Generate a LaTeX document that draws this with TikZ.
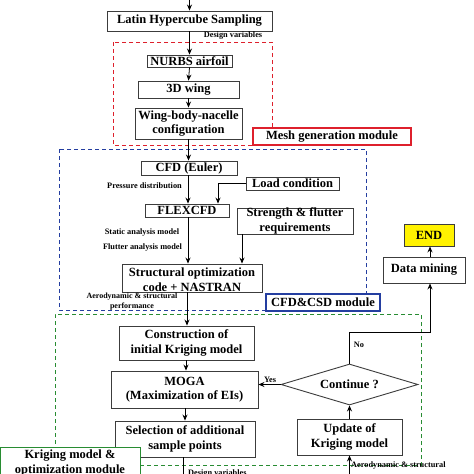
\documentclass[tikz,border=0pt]{standalone}
\usepackage{fontspec}
\setmainfont{Liberation Serif}
\usetikzlibrary{arrows.meta,shapes.geometric}
\definecolor{myred}{RGB}{222,32,44}
\definecolor{myblue}{RGB}{36,62,160}
\definecolor{mygreen}{RGB}{40,140,50}
\definecolor{boxgray}{RGB}{60,60,60}
\tikzset{
  box/.style={draw=boxgray,line width=0.9pt,fill=white,inner sep=0pt,align=center,
    font=\bfseries\fontsize{12.5}{14.5}\selectfont},
  lbl/.style={inner sep=0pt,font=\bfseries\fontsize{8.3}{10}\selectfont},
  arr/.style={line width=0.8pt,-{Stealth[length=6pt,width=5pt]}},
  ln/.style={line width=0.8pt},
  modframe/.style={line width=1pt,dash pattern=on 4pt off 3pt},
}
\begin{document}
\begin{tikzpicture}[x=1pt,y=-1pt]
\useasboundingbox (0,0) rectangle (474,474);
\clip (0,0) rectangle (474,474);
\fill[white] (0,0) rectangle (474,474);
% module frames
\draw[modframe,myred] (113,42) rectangle (272,145);
\draw[modframe,myblue] (59,149) rectangle (366,310);
\draw[modframe,mygreen] (140,465) -- (421,465) -- (421,314) -- (55,314) -- (55,447);
% nodes
\node[box,minimum width=165pt,minimum height=20pt] (lhs) at (189.5,21) {Latin Hypercube Sampling};
\node[box,minimum width=85pt,minimum height=12pt] (nurbs) at (189.5,61) {NURBS airfoil};
\node[box,minimum width=101pt,minimum height=17pt] (wing) at (188.5,89.5) {3D wing};
\node[box,minimum width=107pt,minimum height=31pt] (wbn) at (188.5,123.5) {Wing-body-nacelle\\configuration};
\node[box,draw=myred,line width=1.3pt,minimum width=158pt,minimum height=17pt] (mesh) at (332,136.5) {Mesh generation module};
\node[box,minimum width=96pt,minimum height=14pt] (cfd) at (189,168) {CFD (Euler)};
\node[box,minimum width=93pt,minimum height=13pt] (load) at (292.5,183.5) {Load condition};
\node[box,minimum width=84pt,minimum height=13pt] (flex) at (187,210.5) {FLEXCFD};
\node[box,minimum width=116pt,minimum height=26pt] (str) at (295,221) {Strength \& flutter\\requirements};
\node[box,minimum width=140pt,minimum height=28pt,text depth=0pt] (sopt) at (192,278) {};
\node[font=\bfseries\fontsize{12.5}{14.5}\selectfont,align=center,inner sep=0pt] (sopttext) at (192,279.5) {Structural optimization\\code + NASTRAN};
\node[box,draw=myblue,line width=1.3pt,minimum width=114pt,minimum height=17pt] (csd) at (323,302.5) {CFD\&CSD module};
\node[box,minimum width=135pt,minimum height=34pt] (cons) at (186.5,343) {Construction of\\initial Kriging model};
\node[box,minimum width=147pt,minimum height=37pt] (moga) at (184.5,389.5) {MOGA\\(Maximization of EIs)};
\node[box,minimum width=140pt,minimum height=36pt] (sel) at (185,439) {Selection of additional\\sample points};
\node[box,diamond,aspect=3.34,minimum width=137pt,minimum height=41pt] (cont) at (349.5,384.5) {Continue ?};
\node[box,minimum width=105pt,minimum height=36pt] (upd) at (349.5,437) {Update of\\Kriging model};
\node[box,minimum width=82pt,minimum height=26pt] (dm) at (424,270) {Data mining};
\node[box,fill=yellow,minimum width=50pt,minimum height=22pt] (end) at (429,235) {END};
\node[box,draw=mygreen,line width=1.3pt,minimum width=140pt,minimum height=44pt,anchor=north west] (krig) at (0,447) {};
\node[font=\bfseries\fontsize{12.5}{15}\selectfont,align=center,inner sep=0pt,anchor=north] (krigtext) at (70,450) {Kriging model \&\\optimization module};
% free ends
\coordinate (topin) at (189.5,0);
\coordinate (botout) at (183,474);
\coordinate (botin) at (349.5,474);
\coordinate (noturn) at (349.5,332);
\coordinate (noturn2) at (430,332);
\coordinate (loadturn) at (218,183.5);
% connectors
\draw[arr] (topin) -- (lhs.north);
\draw[arr] (lhs.south) -- (nurbs.north);
\draw[arr] (nurbs.south) -- (wing.north);
\draw[arr] (wing.south) -- (wbn.north);
\draw[arr] (wbn.south) -- (wbn.south |- cfd.north);
\draw[arr] (cfd.south -| 188,0) -- (flex.north -| 188,0);
\draw[arr] (load.west) -- (loadturn) -- (loadturn |- flex.north);
\draw[arr] (flex.south -| 188,0) -- (sopt.north -| 188,0);
\draw[arr] (str.south -| 242,0) -- (sopt.north -| 242,0);
\draw[arr] (sopt.south -| 187,0) -- (cons.north -| 187,0);
\draw[arr] (cons.south -| 186,0) -- (moga.north -| 186,0);
\draw[arr] (moga.south -| 185,0) -- (sel.north -| 185,0);
\draw[ln] (sel.south -| botout) -- (botout);
\draw[arr] (cont.west) -- (moga.east |- cont.west);
\draw[arr] (upd.north) -- (cont.south);
\draw[arr] (botin) -- (upd.south);
\draw[arr] (cont.north) -- (noturn) -- (noturn2) -- (noturn2 |- dm.south);
\draw[arr] (dm.north -| 430,0) -- (end.south -| 430,0);
% labels
\node[lbl] (l1) at (233,35.5) {Design variables};
\node[lbl] (l2) at (144.5,186) {Pressure distribution};
\node[lbl] (l3) at (142,233) {Static analysis model};
\node[lbl] (l4) at (142.5,248) {Flutter analysis model};
\node[lbl,align=center,font=\bfseries\fontsize{8}{9.5}\selectfont] (l5) at (132,301.5) {Aerodynamic \& structural\\performance};
\node[lbl] (l6) at (359,345) {No};
\node[lbl] (l7) at (270,379.5) {Yes};
\node[lbl,anchor=west] (l8) at (351,466) {Aerodynamic \& structural};
\node[lbl,anchor=west] (l9) at (188,474) {Design variables};
\end{tikzpicture}
\end{document}
